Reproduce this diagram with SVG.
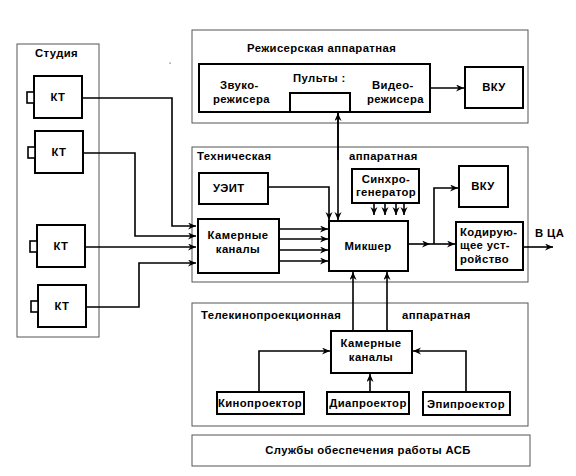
<svg xmlns="http://www.w3.org/2000/svg" width="576" height="476" viewBox="0 0 576 476">
<defs>
<marker id="ah" markerUnits="userSpaceOnUse" markerWidth="9" markerHeight="8" refX="8" refY="3.5" orient="auto">
<path d="M0,0 L8,3.5 L0,7 L2.5,3.5 z" fill="#000"/>
</marker>
</defs>
<style>
text{font-family:"Liberation Sans",Arial,sans-serif;font-weight:bold;font-size:11.3px;fill:#000;letter-spacing:0.4px}
.c{text-anchor:middle}
.area{fill:#fff;stroke:#555;stroke-width:1}
.box{fill:#fff;stroke:#000;stroke-width:2}
.sq{fill:#fff;stroke:#000;stroke-width:1.6}
.ln{fill:none;stroke:#000;stroke-width:1.6}
.arr{marker-end:url(#ah)}
</style>
<rect width="576" height="476" fill="#fff"/>

<g id="studio">
<rect class="area" x="17" y="44" width="82" height="293"/>
<text x="35" y="57">Студия</text>
</g>
<g id="kt1"><rect class="box" x="34" y="76" width="48" height="42"/><rect class="sq" x="27" y="92" width="7" height="11"/><text class="c" x="58" y="101">КТ</text></g>
<g id="kt2"><rect class="box" x="35" y="131" width="48" height="42"/><rect class="sq" x="28" y="147" width="7" height="11"/><text class="c" x="59" y="156">КТ</text></g>
<g id="kt3"><rect class="box" x="37" y="225" width="48" height="42"/><rect class="sq" x="30" y="241" width="7" height="11"/><text class="c" x="61" y="250">КТ</text></g>
<g id="kt4"><rect class="box" x="38" y="285" width="48" height="42"/><rect class="sq" x="31" y="301" width="7" height="11"/><text class="c" x="62" y="310">КТ</text></g>

<g id="rezh">
<rect class="area" x="192" y="30" width="336" height="93"/>
<text x="247" y="52">Режисерская аппаратная</text>
</g>
<g id="pults">
<rect class="box" x="199" y="64" width="231" height="48"/>
<rect class="box" x="290" y="93" width="60" height="19"/>
<text x="220" y="89">Звуко-</text>
<text x="213" y="103">режисера</text>
<text x="293" y="82">Пульты :</text>
<text x="372" y="89">Видео-</text>
<text x="367" y="103">режисера</text>
</g>
<g id="vku1"><rect class="box" x="465" y="67" width="58" height="41"/><text class="c" x="494" y="91">ВКУ</text></g>

<g id="tech">
<rect class="area" x="192" y="147" width="336" height="135"/>
<text x="197" y="160">Техническая</text>
<text x="349" y="160">аппаратная</text>
</g>
<g id="ueit"><rect class="box" x="199" y="173" width="69" height="31"/><text x="213" y="192">УЭИТ</text></g>
<g id="kamk1"><rect class="box" x="198" y="219" width="81" height="54"/><text class="c" x="238" y="239">Камерные</text><text class="c" x="238" y="253">каналы</text></g>
<g id="mixer"><rect class="box" x="329" y="221" width="79" height="50"/><text class="c" x="368" y="250">Микшер</text></g>
<g id="sync"><rect class="box" x="352" y="169" width="67" height="34"/><text class="c" x="386" y="183">Синхро-</text><text class="c" x="386" y="196">генератор</text></g>
<g id="vku2"><rect class="box" x="459" y="166" width="49" height="41"/><text class="c" x="483" y="190">ВКУ</text></g>
<g id="coder"><rect class="box" x="456" y="222" width="67" height="48"/><text x="460" y="236">Кодирую-</text><text x="460" y="249">щее уст-</text><text x="460" y="263">ройство</text></g>
<text x="535" y="237">В ЦА</text>

<g id="telecine">
<rect class="area" x="192" y="303" width="336" height="123"/>
<text x="201" y="319">Телекинопроекционная</text>
<text x="402" y="319">аппаратная</text>
</g>
<g id="kamk2"><rect class="box" x="331" y="331" width="81" height="42"/><text class="c" x="371" y="347">Камерные</text><text class="c" x="371" y="361">каналы</text></g>
<g id="kino"><rect class="box" x="217" y="392" width="87" height="22"/><text class="c" x="260" y="407">Кинопроектор</text></g>
<g id="dia"><rect class="box" x="327" y="392" width="82" height="22"/><text class="c" x="368" y="407">Диапроектор</text></g>
<g id="epi"><rect class="box" x="423" y="392" width="87" height="23"/><text class="c" x="466" y="408">Эпипроектор</text></g>

<g id="services"><rect class="area" x="192" y="435" width="338" height="31"/><text class="c" x="368" y="454">Службы обеспечения работы АСБ</text></g>

<rect x="169.5" y="62.5" width="1.2" height="1.2" fill="#666"/>

<g id="connectors">
<path class="ln arr" d="M82,98 H172 V226 H196"/>
<path class="ln arr" d="M83,153 H135 V236 H196"/>
<path class="ln arr" d="M85,247 H196"/>
<path class="ln arr" d="M86,307 H139 V263 H196"/>
<path class="ln arr" d="M430,88 H464"/>
<path class="ln arr" d="M338,160 V113"/>
<path class="ln arr" d="M338,113 V220"/>
<path class="ln arr" d="M268,187 H329 V220"/>
<path class="ln arr" d="M279,229 H328"/>
<path class="ln arr" d="M279,239 H328"/>
<path class="ln arr" d="M279,250 H328"/>
<path class="ln arr" d="M279,261 H328"/>
<path class="ln arr" d="M374,204 V215"/>
<path class="ln arr" d="M385,204 V215"/>
<path class="ln arr" d="M396,204 V215"/>
<path class="ln arr" d="M404,204 V215"/>
<path class="ln arr" d="M408,244 H430"/>
<path class="ln arr" d="M430,244 H455"/>
<path class="ln arr" d="M434,244 V188 H458"/>
<path class="ln arr" d="M523,247 H553"/>
<path class="ln arr" d="M353,331 V272"/>
<path class="ln arr" d="M387,331 V272"/>
<path class="ln arr" d="M259,392 V351 H330"/>
<path class="ln arr" d="M370,392 V374"/>
<path class="ln arr" d="M466,392 V351 H413"/>
</g>
</svg>
